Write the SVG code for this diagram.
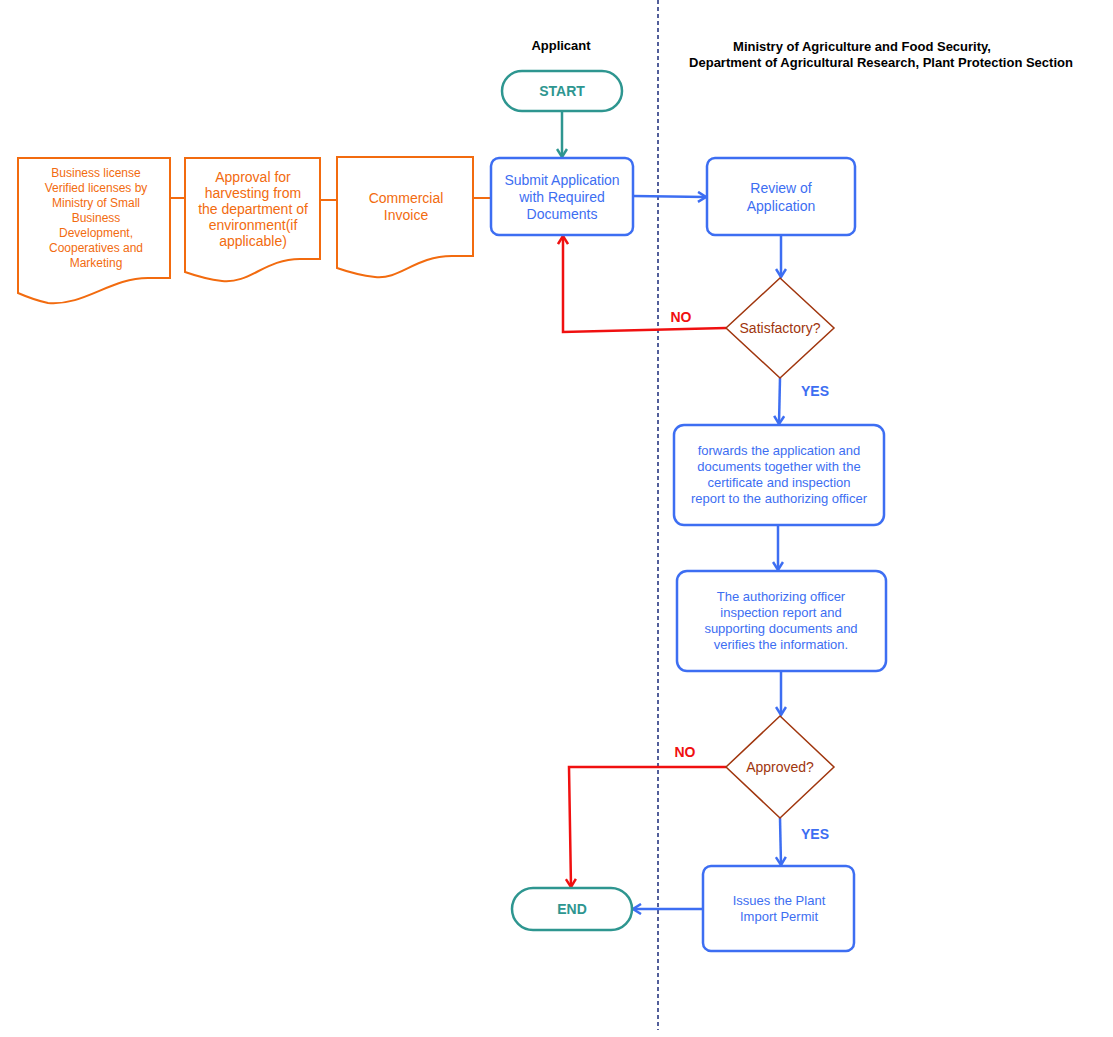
<svg xmlns="http://www.w3.org/2000/svg" width="1113" height="1037" viewBox="0 0 1113 1037">
<style>
text{font-family:"Liberation Sans",Arial,sans-serif;text-anchor:middle}
.doc{fill:#fff;stroke:#f26b0f;stroke-width:2}
.dt{fill:#f26b0f;font-size:12px}
.dt2{fill:#f26b0f;font-size:14px}
.box{fill:#fff;stroke:#3d6ef2;stroke-width:2.5}
.bt{fill:#3d6ef2;font-size:14px}
.bt2{fill:#3d6ef2;font-size:13px}
.dia{fill:#fff;stroke:#a0360e;stroke-width:1.5}
.diat{fill:#a0360e;font-size:14px}
.term{fill:#fff;stroke:#2e9690;stroke-width:2.5}
.tt{fill:#2e9690;font-size:14px;font-weight:bold}
.hdr{fill:#000;font-size:13px;font-weight:bold}
.lbl{font-size:14px;font-weight:bold}
.cb{stroke:#3d6ef2;stroke-width:2.5;fill:none}
.cr{stroke:#f01010;stroke-width:2.5;fill:none}
.co{stroke:#f26b0f;stroke-width:2;fill:none}
.ct{stroke:#2e9690;stroke-width:2.5;fill:none}
</style>
<defs>
<marker id="ab" markerWidth="12" markerHeight="12" refX="10" refY="6" orient="auto" markerUnits="userSpaceOnUse"><polyline points="2,1 10,6 2,11" fill="none" stroke="#3d6ef2" stroke-width="2.5"/></marker>
<marker id="ar" markerWidth="12" markerHeight="12" refX="10" refY="6" orient="auto" markerUnits="userSpaceOnUse"><polyline points="2,1 10,6 2,11" fill="none" stroke="#f01010" stroke-width="2.5"/></marker>
<marker id="at" markerWidth="12" markerHeight="12" refX="10" refY="6" orient="auto" markerUnits="userSpaceOnUse"><polyline points="2,1 10,6 2,11" fill="none" stroke="#2e9690" stroke-width="2.5"/></marker>
</defs>
<rect width="1113" height="1037" fill="#fff"/>
<line x1="658" y1="0" x2="658" y2="1030" stroke="#1a2a7a" stroke-width="1.5" stroke-dasharray="4,3"/>
<text class="hdr" x="561" y="50">Applicant</text>
<text class="hdr" x="862" y="51">Ministry of Agriculture and Food Security,</text>
<text class="hdr" x="881" y="67">Department of Agricultural Research, Plant Protection Section</text>

<g id="connectors">
<line class="co" x1="170" y1="198" x2="185" y2="198"/>
<line class="co" x1="320" y1="200" x2="337" y2="200"/>
<line class="co" x1="473" y1="198" x2="491" y2="198"/>
<line class="ct" x1="562" y1="111" x2="562" y2="157" marker-end="url(#at)"/>
<line class="cb" x1="633" y1="196" x2="706" y2="197" marker-end="url(#ab)"/>
<line class="cb" x1="781" y1="235" x2="781" y2="277" marker-end="url(#ab)"/>
<polyline class="cr" points="726,328 563,332 563,236" marker-end="url(#ar)"/>
<text class="lbl" x="681" y="322" fill="#f01010">NO</text>
<line class="cb" x1="780" y1="378" x2="779" y2="424" marker-end="url(#ab)"/>
<text class="lbl" x="815" y="396" fill="#3d6ef2">YES</text>
<line class="cb" x1="778" y1="525" x2="778" y2="570" marker-end="url(#ab)"/>
<line class="cb" x1="781" y1="671" x2="781" y2="715" marker-end="url(#ab)"/>
<polyline class="cr" points="726,767 569,767 571,887" marker-end="url(#ar)"/>
<text class="lbl" x="685" y="757" fill="#f01010">NO</text>
<line class="cb" x1="780" y1="818" x2="781" y2="865" marker-end="url(#ab)"/>
<text class="lbl" x="815" y="839" fill="#3d6ef2">YES</text>
<line class="cb" x1="703" y1="909" x2="633" y2="909" marker-end="url(#ab)"/>
</g>

<g id="doc1"><path class="doc" d="M18,158 H170 V278 H148 C110,278 85,306 48,303 Q34,300 18,293 Z"/>
<text class="dt"><tspan x="96" y="177">Business license</tspan><tspan x="96" y="192">Verified licenses by</tspan><tspan x="96" y="207">Ministry of Small</tspan><tspan x="96" y="222">Business</tspan><tspan x="96" y="237">Development,</tspan><tspan x="96" y="252">Cooperatives and</tspan><tspan x="96" y="267">Marketing</tspan></text></g>
<g id="doc2"><path class="doc" d="M185,158 H320 V259 H300 C265,259 250,284 222,281 Q205,279 185,272 Z"/>
<text class="dt2" font-size="14"><tspan x="253" y="182">Approval for</tspan><tspan x="253" y="198">harvesting from</tspan><tspan x="253" y="214">the department of</tspan><tspan x="253" y="230">environment(if</tspan><tspan x="253" y="246">applicable)</tspan></text></g>
<g id="doc3"><path class="doc" d="M337,157 H473 V256 H452 C415,256 400,280 375,277 Q357,275 337,268 Z"/>
<text class="dt2"><tspan x="406" y="203">Commercial</tspan><tspan x="406" y="220">Invoice</tspan></text></g>

<g id="start"><rect class="term" x="502" y="71" width="120" height="40" rx="20"/><text class="tt" x="562" y="96">START</text></g>
<g id="submit"><rect class="box" x="491" y="158" width="142" height="77" rx="8"/>
<text class="bt"><tspan x="562" y="185">Submit Application</tspan><tspan x="562" y="202">with Required</tspan><tspan x="562" y="219">Documents</tspan></text></g>
<g id="review"><rect class="box" x="707" y="158" width="148" height="77" rx="8"/>
<text class="bt"><tspan x="781" y="193">Review of</tspan><tspan x="781" y="211">Application</tspan></text></g>
<g id="satisfactory"><polygon class="dia" points="780,278 834,328 780,378 726,328"/><text class="diat" x="780" y="333">Satisfactory?</text></g>
<g id="forwards"><rect class="box" x="674" y="425" width="210" height="100" rx="10"/>
<text class="bt2"><tspan x="779" y="455">forwards the application and</tspan><tspan x="779" y="471">documents together with the</tspan><tspan x="779" y="487">certificate and inspection</tspan><tspan x="779" y="503">report to the authorizing officer</tspan></text></g>
<g id="authorizing"><rect class="box" x="677" y="571" width="209" height="100" rx="10"/>
<text class="bt2"><tspan x="781" y="601">The authorizing officer</tspan><tspan x="781" y="617">inspection report and</tspan><tspan x="781" y="633">supporting documents and</tspan><tspan x="781" y="649">verifies the information.</tspan></text></g>
<g id="approved"><polygon class="dia" points="780,716 834,767 780,818 726,767"/><text class="diat" x="780" y="772">Approved?</text></g>
<g id="issues"><rect class="box" x="703" y="866" width="151" height="85" rx="8"/>
<text class="bt2"><tspan x="779" y="905">Issues the Plant</tspan><tspan x="779" y="921">Import Permit</tspan></text></g>
<g id="end"><rect class="term" x="512" y="888" width="120" height="42" rx="21"/><text class="tt" x="572" y="914">END</text></g>
</svg>
